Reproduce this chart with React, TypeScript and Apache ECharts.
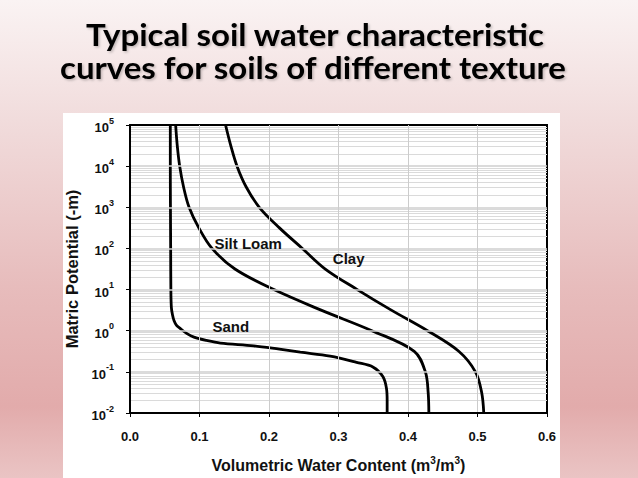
import React, { useEffect, useRef } from "react";
import * as echarts from "echarts";

const titleLines = ["Typical soil water characteristic", "curves for soils of different texture"];
const xAxisName = "Volumetric Water Content (m{s|3}/m{s|3})";
const yAxisName = "Matric Potential (-m)";

// volumetric water content (m3/m3) and matric potential (-m)
const sandTheta = [0.058, 0.058, 0.0582, 0.0585, 0.0588, 0.0595, 0.061, 0.0633, 0.067, 0.0729, 0.082, 0.092, 0.11, 0.13, 0.178, 0.215, 0.245, 0.288, 0.326, 0.35, 0.364, 0.369, 0.37, 0.37];
const sandPsi = [100000, 10000, 1000, 100, 10, 3.7, 2.5, 1.77, 1.35, 1.11, 0.85, 0.7, 0.58, 0.5, 0.43, 0.355, 0.3, 0.24, 0.17, 0.13, 0.076, 0.04, 0.02, 0.01];

const siltTheta = [0.0657, 0.068, 0.0715, 0.077, 0.085, 0.099, 0.118, 0.151, 0.207, 0.275, 0.348, 0.409, 0.425, 0.429, 0.43];
const siltPsi = [100000, 31600, 10000, 3160, 1000, 316, 100, 31.6, 10, 3.16, 1, 0.316, 0.1, 0.0316, 0.01];

const clayTheta = [0.1375, 0.145, 0.154, 0.167, 0.186, 0.215, 0.248, 0.281, 0.327, 0.376, 0.428, 0.473, 0.497, 0.506, 0.509];
const clayPsi = [100000, 31600, 10000, 3160, 1000, 316, 100, 31.6, 10, 3.16, 1, 0.316, 0.1, 0.0316, 0.01];

const curveNames = ["Sand", "Silt Loam", "Clay"];
const labelTheta = [0.145, 0.17, 0.3146];
const labelPsi = [1.27, 132, 57];

const yMin = 0.01;
const yMax = 100000;
const minorMultipliers = [2, 3, 4, 5, 6, 7, 8, 9];

const ARIAL = "'Liberation Sans', Arial, sans-serif";
const TITLE_FONT = "Lato, 'Open Sans', sans-serif";

export default function App() {
  const ref = useRef<HTMLDivElement>(null);

  useEffect(() => {
    if (!ref.current) return;
    const chart = echarts.init(ref.current, undefined, { renderer: "svg" });

    const thetas = [sandTheta, siltTheta, clayTheta];
    const psis = [sandPsi, siltPsi, clayPsi];

    const minorLines: any[] = [];
    for (let e = Math.round(Math.log10(yMin)); e < Math.round(Math.log10(yMax)); e++) {
      for (const k of minorMultipliers) minorLines.push({ yAxis: k * Math.pow(10, e) });
    }

    const curveSeries = curveNames.map((name, i) => ({
      type: "line",
      name,
      z: 3,
      showSymbol: false,
      symbol: "none",
      smooth: 0.35,
      lineStyle: { color: "#000", width: 2.8 },
      data: thetas[i].map((t, j) => [t, psis[i][j]]),
      markPoint: {
        symbol: "circle",
        symbolSize: 0,
        silent: true,
        z: 6,
        data: [{ coord: [labelTheta[i], labelPsi[i]], name }],
        label: {
          show: true,
          position: "inside",
          formatter: name,
          color: "#111",
          fontSize: 15,
          fontWeight: "bold",
          fontFamily: ARIAL,
        },
      },
    }));

    const titleStyle = {
      fill: "#000",
      font: `bold 30px ${TITLE_FONT}`,
      textAlign: "center",
      textVerticalAlign: "middle",
      textShadowColor: "rgba(0,0,0,0.22)",
      textShadowBlur: 2,
      textShadowOffsetX: 1.5,
      textShadowOffsetY: 1.5,
    };

    chart.setOption({
      animation: false,
      backgroundColor: new echarts.graphic.LinearGradient(0, 0, 0, 1, [
        { offset: 0, color: "#faf3f3" },
        { offset: 0.25, color: "#f1dcdc" },
        { offset: 0.6, color: "#e7bcbc" },
        { offset: 0.85, color: "#e2abab" },
        { offset: 1, color: "#eac4c4" },
      ]),
      graphic: [
        {
          type: "rect",
          z: -10,
          silent: true,
          shape: { x: 63, y: 113, width: 497, height: 370 },
          style: { fill: "#fff" },
        },
        {
          type: "text",
          silent: true,
          x: 315,
          y: 35,
          scaleX: 1.1,
          style: { ...titleStyle, text: titleLines[0] },
        },
        {
          type: "text",
          silent: true,
          x: 313,
          y: 68,
          scaleX: 1.1,
          style: { ...titleStyle, text: titleLines[1] },
        },
      ],
      grid: {
        left: 130,
        top: 125,
        right: 91,
        bottom: 61,
        show: true,
        borderColor: "#000",
        borderWidth: 2,
        backgroundColor: "transparent",
      },
      xAxis: {
        type: "value",
        min: 0,
        max: 0.6,
        interval: 0.1,
        z: 5,
        name: xAxisName,
        nameLocation: "middle",
        nameGap: 42,
        nameTextStyle: {
          fontSize: 16,
          fontWeight: "bold",
          fontFamily: ARIAL,
          color: "#111",
          rich: { s: { fontSize: 10, fontWeight: "bold", fontFamily: ARIAL, color: "#111", verticalAlign: "top", lineHeight: 20 } },
        },
        axisLine: { show: true, lineStyle: { color: "#000", width: 2 } },
        axisTick: { show: true, inside: false, length: 4, lineStyle: { color: "#000", width: 1 } },
        axisLabel: {
          margin: 17,
          fontSize: 13,
          fontWeight: "bold",
          fontFamily: ARIAL,
          color: "#111",
          formatter: (v: number) => v.toFixed(1),
        },
        splitLine: { show: true, showMinLine: false, showMaxLine: false, lineStyle: { color: "#cccccc", width: 1 } },
      },
      yAxis: {
        type: "log",
        logBase: 10,
        min: yMin,
        max: yMax,
        z: 5,
        name: yAxisName,
        nameLocation: "middle",
        nameGap: 43,
        nameRotate: 90,
        nameTextStyle: { fontSize: 16.5, fontWeight: "bold", fontFamily: ARIAL, color: "#111" },
        axisLine: { show: true, lineStyle: { color: "#000", width: 2 } },
        axisTick: { show: true, inside: false, length: 4, lineStyle: { color: "#000", width: 1 } },
        axisLabel: {
          margin: 16,
          fontFamily: ARIAL,
          formatter: (v: number) => `{b|10}{e|${Math.round(Math.log10(v))}}`,
          rich: {
            b: { fontSize: 13, fontWeight: "bold", fontFamily: ARIAL, color: "#111", lineHeight: 18, verticalAlign: "bottom" },
            e: { fontSize: 9, fontWeight: "bold", fontFamily: ARIAL, color: "#111", lineHeight: 18, verticalAlign: "top" },
          },
        },
        splitLine: { show: true, showMinLine: false, showMaxLine: false, lineStyle: { color: "#cfcfcf", width: 1.5 } },
      },
      series: [
        {
          type: "line",
          name: "minor-grid",
          z: 1,
          data: [],
          silent: true,
          markLine: {
            silent: true,
            z: 1,
            symbol: ["none", "none"],
            label: { show: false },
            lineStyle: { color: "#dadada", width: 1, type: "solid" },
            data: minorLines,
          },
        },
        ...curveSeries,
      ],
    });

    return () => chart.dispose();
  }, []);

  return (
    <div
      ref={ref}
      style={{ position: "fixed", left: 0, top: 0, width: 638, height: 478 }}
    />
  );
}
